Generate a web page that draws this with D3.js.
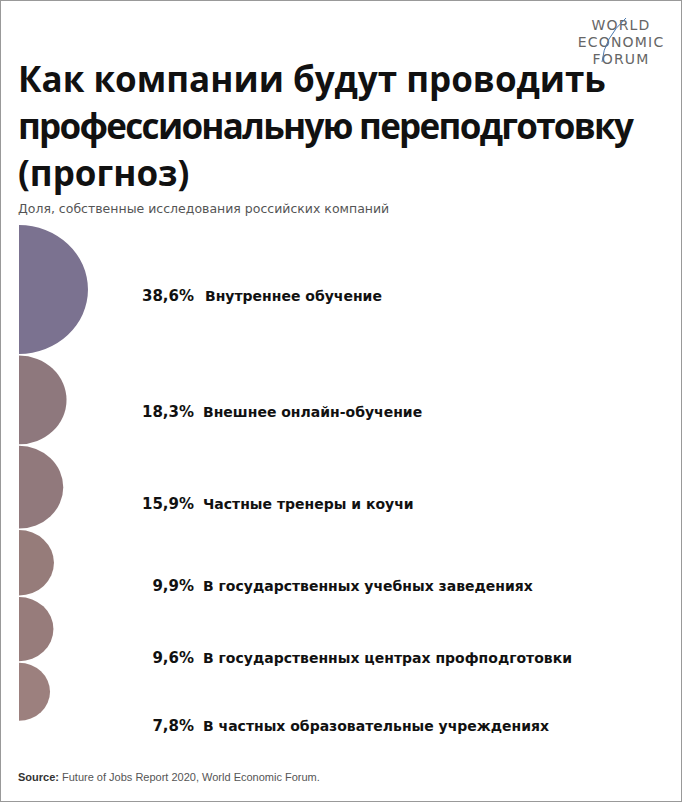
<!DOCTYPE html><html><head><meta charset="utf-8">
<script src="https://cdn.jsdelivr.net/npm/d3@7"></script>
<style>body{margin:0;background:#fff}</style></head><body>
<svg id="c" width="682" height="802"></svg>
<script>
const categories=["Внутреннее обучение","Внешнее онлайн-обучение","Частные тренеры и коучи","В государственных учебных заведениях","В государственных центрах профподготовки","В частных образовательные учреждениях"];
const values=[38.6,18.3,15.9,9.9,9.6,7.8];
const colors=["#7b7290","#8e787d","#91797c","#967c7a","#977c7b","#9c807e"];
const svg=d3.select("#c");
svg.append("rect").attr("x",0.5).attr("y",0.5).attr("width",681).attr("height",801).attr("fill","#fff").attr("stroke","#999");
const ff="'Open Sans','Noto Sans',sans-serif";
const lf="'DejaVu Sans',Verdana,sans-serif";
const logo=svg.append("g").attr("font-family","'DejaVu Sans',sans-serif").attr("fill","#666").attr("font-size",14).attr("text-anchor","middle").attr("letter-spacing",1.2);
[["WORLD",30],["ECONOMIC",47],["FORUM",64]].forEach(([t,y])=>logo.append("text").attr("x",621).attr("y",y).text(t));
svg.append("path").attr("d","M602 62 Q604 38 626 18").attr("stroke","#4a7ab0").attr("fill","none").attr("stroke-width",1);
const title=["Как компании будут проводить","профессиональную переподготовку","(прогноз)"];
title.forEach((t,i)=>svg.append("text").attr("x",18).attr("y",92+i*47).attr("font-family",ff).attr("font-weight",700).attr("font-size",35).attr("fill","#111").attr("textLength",i==1?616:null).text(t));
svg.append("text").attr("x",18).attr("y",213).attr("font-family",lf).attr("font-size",12.5).attr("fill","#555").text("Доля, собственные исследования российских компаний");
const r=d3.scaleSqrt().domain([0,d3.max(values)]).range([0,64.5]);
let y=225;
const g=svg.append("g");
values.forEach((v,i)=>{
  const ry=r(v),rx=ry*1.07,cy=y+ry;y+=2*ry+1.5;
  g.append("path").attr("d",`M19 ${cy-ry} A${rx} ${ry} 0 0 1 19 ${cy+ry} Z`).attr("fill",colors[i]);
  const ty=cy+5+i*5.6+6;
  g.append("text").attr("x",194).attr("y",ty).attr("text-anchor","end").attr("font-family",lf).attr("font-weight",700).attr("font-size",15).attr("fill","#111").text(d3.format(".1f")(v).replace(".",",")+"%");
  g.append("text").attr("x",i<1?205:203).attr("y",ty).attr("font-family",lf).attr("font-weight",700).attr("font-size",14).attr("fill","#111").text(categories[i]);
});
const s=svg.append("text").attr("x",18).attr("y",781).attr("font-family","'Liberation Sans',Arial,sans-serif").attr("font-size",11).attr("fill","#555");
s.append("tspan").attr("font-weight",700).attr("fill","#333").text("Source:");
s.append("tspan").text(" Future of Jobs Report 2020, World Economic Forum.");
</script></body></html>
